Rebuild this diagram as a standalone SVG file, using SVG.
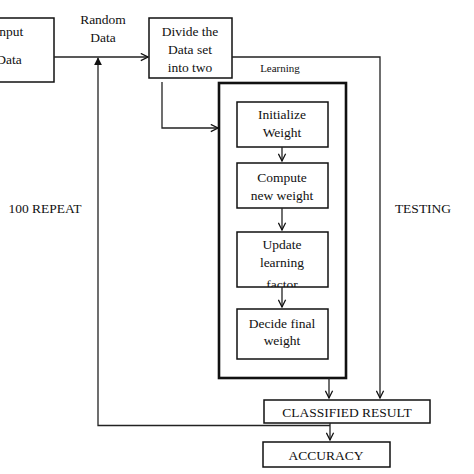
<svg xmlns="http://www.w3.org/2000/svg" width="474" height="474" viewBox="0 0 474 474">
<defs>
<style>
text{font-family:"Liberation Serif","Times New Roman",serif;font-size:13.5px;fill:#111;text-anchor:middle}
.box{fill:#fff;stroke:#111;stroke-width:1.5}
.thick{fill:#fff;stroke:#111;stroke-width:2.6}
.ln{fill:none;stroke:#222;stroke-width:1.3}
</style>
<clipPath id="upd"><rect x="237" y="232" width="91" height="55"/></clipPath>
<marker id="open" viewBox="0 0 10 10" refX="9" refY="5" markerWidth="9" markerHeight="9" markerUnits="userSpaceOnUse" orient="auto">
<path d="M1,1 L9,5 L1,9" fill="none" stroke="#111" stroke-width="1.4"/>
</marker>
<marker id="fill" viewBox="0 0 10 10" refX="9" refY="5" markerWidth="8" markerHeight="8" markerUnits="userSpaceOnUse" orient="auto">
<path d="M0,0 L10,5 L0,10 Z" fill="#111"/>
</marker>
</defs>
<g id="input"><rect class="box" x="-10" y="18" width="64" height="64"/><text x="9" y="36">Input</text><text x="9" y="64">Data</text></g>
<g id="divide"><rect class="box" x="149" y="18" width="83" height="60"/><text x="190" y="36">Divide the</text><text x="190" y="54">Data set</text><text x="190" y="72">into two</text></g>
<g id="learning"><rect class="thick" x="219" y="83" width="127" height="295"/></g>
<g id="initialize"><rect class="box" x="237" y="102" width="91" height="45"/><text x="282" y="119">Initialize</text><text x="282" y="137">Weight</text></g>
<g id="compute"><rect class="box" x="237" y="163" width="91" height="45"/><text x="282" y="182">Compute</text><text x="282" y="200">new weight</text></g>
<g id="update"><rect x="237" y="232" width="91" height="55" fill="#fff"/><text x="282" y="249">Update</text><text x="282" y="267">learning</text><text x="282" y="289" clip-path="url(#upd)">factor</text><rect x="237" y="232" width="91" height="55" fill="none" stroke="#111" stroke-width="1.5"/></g>
<g id="decide"><rect class="box" x="237" y="309" width="91" height="50"/><text x="282" y="328">Decide final</text><text x="282" y="345">weight</text></g>
<g id="classified"><rect class="box" x="264" y="400" width="166" height="23"/><text x="347" y="417">CLASSIFIED RESULT</text></g>
<g id="accuracy"><rect class="box" x="263" y="442" width="127" height="25"/><text x="326" y="460">ACCURACY</text></g>
<g id="labels">
<text x="103" y="24">Random</text><text x="103" y="42">Data</text>
<text x="280" y="72" style="font-size:11px">Learning</text>
<text x="45" y="213">100 REPEAT</text>
<text x="423" y="213">TESTING</text>
</g>
<g id="connectors">
<path class="ln" d="M54,57 H148" marker-end="url(#open)"/>
<path class="ln" d="M232,57 H380 V398" marker-end="url(#open)"/>
<path class="ln" d="M162,82 V128 H218" marker-end="url(#open)"/>
<path class="ln" d="M282,147 V161" marker-end="url(#open)"/>
<path class="ln" d="M282,208 V230" marker-end="url(#open)"/>
<path class="ln" d="M282,287 V307" marker-end="url(#open)"/>
<path class="ln" d="M329,378 V398" marker-end="url(#open)"/>
<path class="ln" d="M330,423 V440" marker-end="url(#open)"/>
<path class="ln" d="M330,425.5 H98 V58" marker-end="url(#fill)"/>
</g>
</svg>
